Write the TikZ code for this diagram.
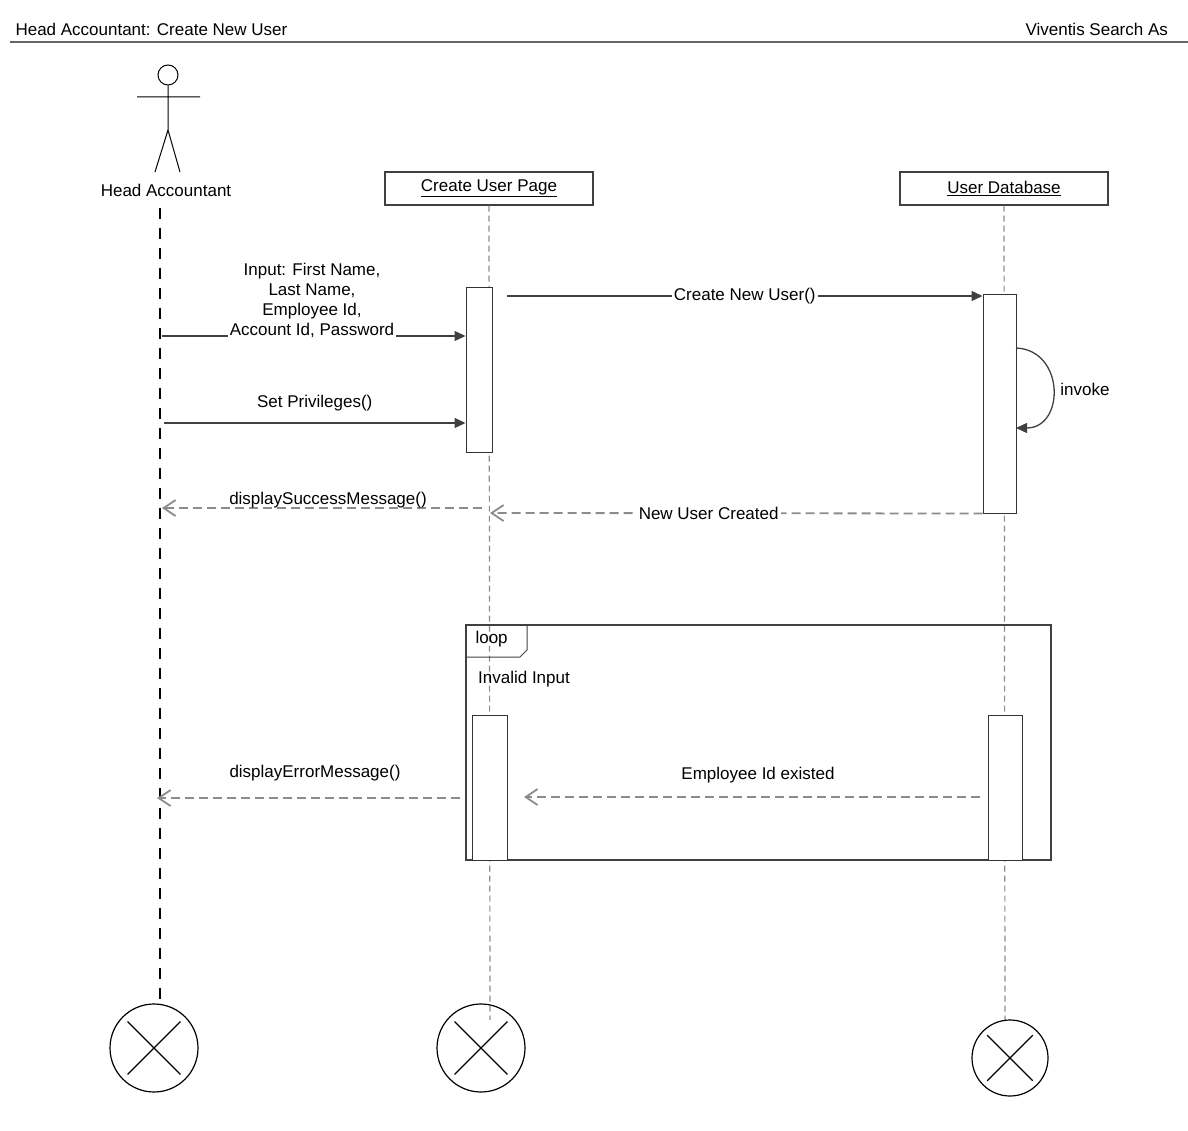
\documentclass[tikz,border=0pt]{standalone}
\usepackage{fontspec}
\setmainfont{Liberation Sans}
\usetikzlibrary{arrows.meta}
\begin{document}
\begin{tikzpicture}[x=1pt,y=-1pt,font=\fontsize{17}{20}\selectfont,
 obj/.style={draw=black!75,line width=1.2pt,minimum width=208pt,minimum height=33pt,inner sep=0},
 act/.style={draw=black!80,line width=1pt,fill=white},
 life/.style={draw=black!45,dash pattern=on 6pt off 4pt,line width=1.2pt},
 msg/.style={draw=black!75,line width=1.3pt,-{Triangle[length=11pt,width=10pt]}},
 ret/.style={draw=black!45,line width=1.8pt,dash pattern=on 9pt off 5pt,-{Straight Barb[length=12pt,width=16pt]}},
 lbl/.style={fill=white,inner sep=2pt},
 dest/.style={draw=black,line width=1.2pt,circle}]
\useasboundingbox (0,0) rectangle (1188,1131);
% header
\node[anchor=west] (t1) at (12,29) {Head Accountant: Create New User};
\node[anchor=west] (t2) at (1022,29) {Viventis Search As};
\draw[black!60,line width=1.3pt] (10,42) -- (1188,42);
% actor
\node[circle,draw,line width=1pt,minimum size=20pt,inner sep=0] (head) at (168,75) {};
\draw[line width=1pt] (head.south) -- (168,130) (137,97) -- (200,97) (155,172) -- (168,130) -- (180,172);
\node (ha) at (166,190) {Head Accountant};
% objects
\node[obj] (cup) at (489,188.5) {\underline{Create User Page}};
\node[obj] (udb) at (1004,188.5) {\underline{User Database}};
% lifelines
\coordinate (l1e) at (160,1000);
\draw[line width=2.6pt,dash pattern=on 11pt off 9pt] (160,208) -- (l1e);
\coordinate (l2e) at (490,1020);
\draw[life] (cup.south) -- (l2e);
\coordinate (l3e) at (1005,1020);
\draw[life] (udb.south) -- (l3e);
% activations
\node[act,minimum width=26pt,minimum height=164pt,inner sep=0] (a1) at (479,370) {};
\node[act,minimum width=33pt,minimum height=218pt,inner sep=0] (a2) at (999.5,404) {};
% messages
\coordinate (m1s) at (162,336);
\draw[msg] (m1s) -- (a1.west |- m1s);
\node[align=center,lbl] (m1l) at (312,300) {Input: First Name,\\Last Name,\\Employee Id,\\Account Id, Password};
\coordinate (m2s) at (164,423);
\draw[msg] (m2s) -- (a1.west |- m2s) node[midway,above=8pt] {Set Privileges()};
\coordinate (m3s) at (507,296);
\draw[msg] (m3s) -- (a2.west |- m3s) node[midway,lbl] {Create New User()};
\draw[msg] (1016,348) .. controls (1065,350) and (1065,428) .. (1016,428);
\node (inv) at (1085,389) {invoke};
\coordinate (r1e) at (490,513);
\draw[ret] (a2.south west) -- (r1e) node[pos=0.556,lbl] {New User Created};
\coordinate (r2s) at (482,508); \coordinate (r2e) at (162,508);
\draw[ret] (r2s) -- (r2e);
\node (r2l) at (328,500) {displaySuccessMessage()};
% loop
\draw[black!75,line width=1.2pt] (466,625) rectangle (1051,860);
\draw[black!75,line width=1pt] (466,657) -- (520,657) -- (527,650) -- (527,625);
\node[anchor=west] (lp) at (472,639) {loop};
\node (ii) at (524,679) {Invalid Input};
\node[act,minimum width=35pt,minimum height=145pt,inner sep=0] (a3) at (489.5,787.5) {};
\node[act,minimum width=34pt,minimum height=145pt,inner sep=0] (a4) at (1005,787.5) {};
\coordinate (r3s) at (980,797); \coordinate (r3e) at (524,797);
\draw[ret] (r3s) -- (r3e);
\node (r3l) at (758,775) {Employee Id existed};
\coordinate (r4s) at (460,798); \coordinate (r4e) at (157,798);
\draw[ret] (r4s) -- (r4e);
\node (r4l) at (315,773) {displayErrorMessage()};
% destroy
\foreach \n/\x/\y/\r in {d1/154/1048/44,d2/481/1048/44,d3/1010/1058/38}{
 \node[dest,minimum size=2*\r pt] (\n) at (\x,\y) {};
 \draw[line width=1.2pt] (\n.center) ++(-0.6*\r,-0.6*\r) -- ++(1.2*\r,1.2*\r) ++(0,-1.2*\r) -- ++(-1.2*\r,1.2*\r);
}
\end{tikzpicture}
\end{document}
